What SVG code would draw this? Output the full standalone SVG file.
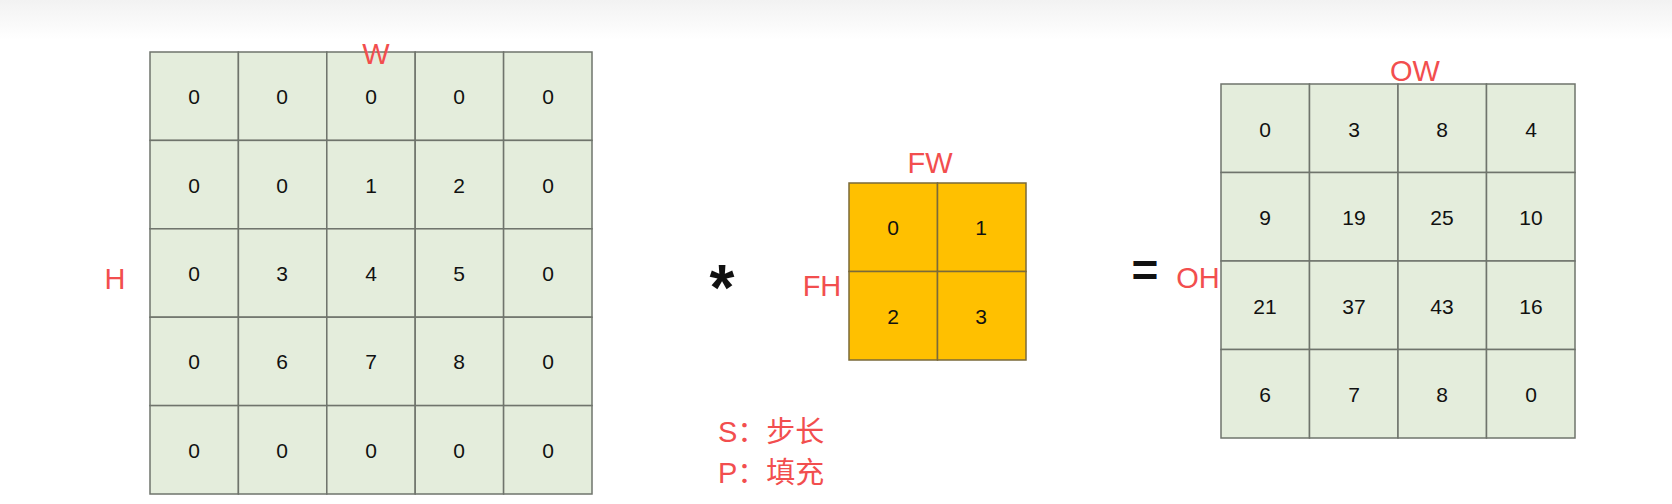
<svg xmlns="http://www.w3.org/2000/svg" width="1672" height="504" viewBox="0 0 1672 504">
<defs><linearGradient id="top" x1="0" y1="0" x2="0" y2="1"><stop offset="0" stop-color="#f2f2f2"/><stop offset="1" stop-color="#ffffff"/></linearGradient></defs>
<style>
.g{fill:#e4eddc;stroke:#6f746c;stroke-width:1.5}
.k{fill:#ffc000;stroke:#7a6a3a;stroke-width:1.5}
.n{font-family:"Liberation Sans",Arial,sans-serif;font-size:21px;fill:#111;text-anchor:middle;dominant-baseline:central}
.l{font-family:"Liberation Sans","Noto Sans CJK SC",sans-serif;font-size:29px;fill:#f24e4e;text-anchor:middle;dominant-baseline:central}
.s{text-anchor:start}
.o{font-family:"Liberation Sans",Arial,sans-serif;font-weight:bold;fill:#111;text-anchor:middle;dominant-baseline:central}
</style>
<rect width="1672" height="504" fill="#fff"/>
<rect width="1672" height="40" fill="url(#top)"/>
<g id="input">
<g class="g">
<rect x="150" y="52" width="88.4" height="88.4"/><rect x="238.4" y="52" width="88.4" height="88.4"/><rect x="326.8" y="52" width="88.4" height="88.4"/><rect x="415.2" y="52" width="88.4" height="88.4"/><rect x="503.6" y="52" width="88.4" height="88.4"/>
<rect x="150" y="140.4" width="88.4" height="88.4"/><rect x="238.4" y="140.4" width="88.4" height="88.4"/><rect x="326.8" y="140.4" width="88.4" height="88.4"/><rect x="415.2" y="140.4" width="88.4" height="88.4"/><rect x="503.6" y="140.4" width="88.4" height="88.4"/>
<rect x="150" y="228.8" width="88.4" height="88.4"/><rect x="238.4" y="228.8" width="88.4" height="88.4"/><rect x="326.8" y="228.8" width="88.4" height="88.4"/><rect x="415.2" y="228.8" width="88.4" height="88.4"/><rect x="503.6" y="228.8" width="88.4" height="88.4"/>
<rect x="150" y="317.2" width="88.4" height="88.4"/><rect x="238.4" y="317.2" width="88.4" height="88.4"/><rect x="326.8" y="317.2" width="88.4" height="88.4"/><rect x="415.2" y="317.2" width="88.4" height="88.4"/><rect x="503.6" y="317.2" width="88.4" height="88.4"/>
<rect x="150" y="405.6" width="88.4" height="88.4"/><rect x="238.4" y="405.6" width="88.4" height="88.4"/><rect x="326.8" y="405.6" width="88.4" height="88.4"/><rect x="415.2" y="405.6" width="88.4" height="88.4"/><rect x="503.6" y="405.6" width="88.4" height="88.4"/>
</g>
<g class="n">
<text x="194" y="96">0</text><text x="282" y="96">0</text><text x="371" y="96">0</text><text x="459" y="96">0</text><text x="548" y="96">0</text>
<text x="194" y="185">0</text><text x="282" y="185">0</text><text x="371" y="185">1</text><text x="459" y="185">2</text><text x="548" y="185">0</text>
<text x="194" y="273">0</text><text x="282" y="273">3</text><text x="371" y="273">4</text><text x="459" y="273">5</text><text x="548" y="273">0</text>
<text x="194" y="361">0</text><text x="282" y="361">6</text><text x="371" y="361">7</text><text x="459" y="361">8</text><text x="548" y="361">0</text>
<text x="194" y="450">0</text><text x="282" y="450">0</text><text x="371" y="450">0</text><text x="459" y="450">0</text><text x="548" y="450">0</text>
</g>
</g>
<g id="kernel">
<g class="k">
<rect x="849" y="183" width="88.5" height="88.5"/><rect x="937.5" y="183" width="88.5" height="88.5"/>
<rect x="849" y="271.5" width="88.5" height="88.5"/><rect x="937.5" y="271.5" width="88.5" height="88.5"/>
</g>
<g class="n"><text x="893" y="227">0</text><text x="981" y="227">1</text><text x="893" y="316">2</text><text x="981" y="316">3</text></g>
</g>
<g id="output">
<g class="g">
<rect x="1221" y="84" width="88.5" height="88.5"/><rect x="1309.5" y="84" width="88.5" height="88.5"/><rect x="1398" y="84" width="88.5" height="88.5"/><rect x="1486.5" y="84" width="88.5" height="88.5"/>
<rect x="1221" y="172.5" width="88.5" height="88.5"/><rect x="1309.5" y="172.5" width="88.5" height="88.5"/><rect x="1398" y="172.5" width="88.5" height="88.5"/><rect x="1486.5" y="172.5" width="88.5" height="88.5"/>
<rect x="1221" y="261" width="88.5" height="88.5"/><rect x="1309.5" y="261" width="88.5" height="88.5"/><rect x="1398" y="261" width="88.5" height="88.5"/><rect x="1486.5" y="261" width="88.5" height="88.5"/>
<rect x="1221" y="349.5" width="88.5" height="88.5"/><rect x="1309.5" y="349.5" width="88.5" height="88.5"/><rect x="1398" y="349.5" width="88.5" height="88.5"/><rect x="1486.5" y="349.5" width="88.5" height="88.5"/>
</g>
<g class="n">
<text x="1265" y="129">0</text><text x="1354" y="129">3</text><text x="1442" y="129">8</text><text x="1531" y="129">4</text>
<text x="1265" y="217">9</text><text x="1354" y="217">19</text><text x="1442" y="217">25</text><text x="1531" y="217">10</text>
<text x="1265" y="306">21</text><text x="1354" y="306">37</text><text x="1442" y="306">43</text><text x="1531" y="306">16</text>
<text x="1265" y="394">6</text><text x="1354" y="394">7</text><text x="1442" y="394">8</text><text x="1531" y="394">0</text>
</g>
</g>
<g id="labels">
<text class="l" x="376" y="54">W</text>
<text class="l" x="115" y="279">H</text>
<text class="l" x="930" y="163">FW</text>
<text class="l" x="822" y="286">FH</text>
<text class="l" x="1415" y="71">OW</text>
<text class="l" x="1198" y="278">OH</text>
<text class="o" x="722" y="288" font-size="64">*</text>
<text class="o" x="1145" y="270" font-size="46">=</text>
<text class="l s" x="718" y="432">S：步长</text>
<text class="l s" x="718" y="473">P：填充</text>
</g>
<g id="connectors"/>
</svg>
